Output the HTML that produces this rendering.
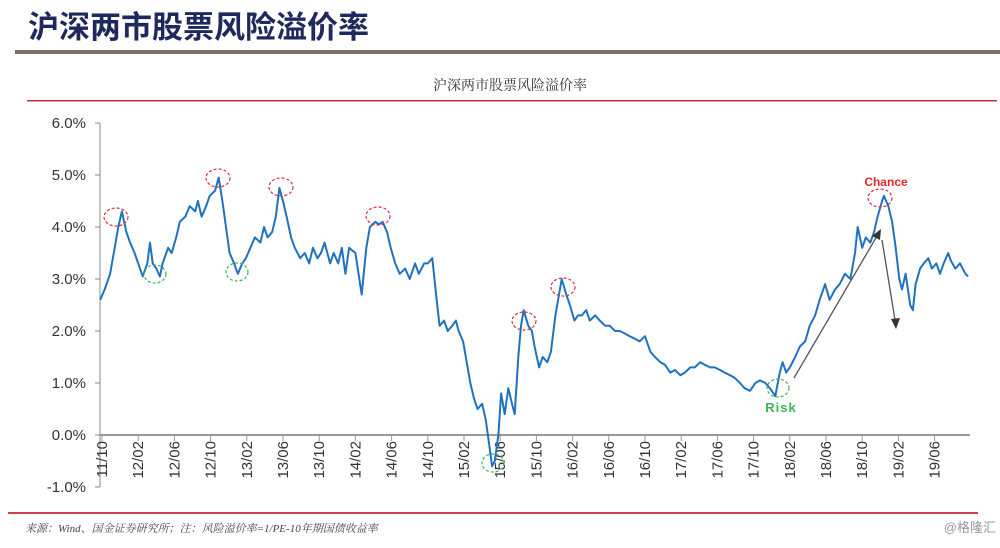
<!DOCTYPE html>
<html><head><meta charset="utf-8">
<style>
body{margin:0;background:#fff;width:1000px;height:543px;overflow:hidden;font-family:"Liberation Sans","Noto Sans CJK SC",sans-serif}
</style></head>
<body>
<svg width="1000" height="543" viewBox="0 0 1000 543" xmlns="http://www.w3.org/2000/svg">
<text x="28" y="38" font-size="31" font-weight="bold" fill="#1f2a5c" font-family="'Noto Sans CJK SC',sans-serif">沪深两市股票风险溢价率</text>
<rect x="15" y="50" width="985" height="4" fill="#7a7063"/>
<text x="510" y="90" font-size="14" text-anchor="middle" fill="#333" font-family="'Noto Serif CJK SC',serif">沪深两市股票风险溢价率</text>
<rect x="27" y="100" width="970" height="1.5" fill="#b8333f"/>
<rect x="8" y="512" width="970" height="2" fill="#c9434a"/>
<text x="25" y="532" font-size="11" font-style="italic" fill="#444" font-family="'Liberation Serif','Noto Serif CJK SC',serif">来源：Wind、国金证券研究所；注：风险溢价率=1/PE-10年期国债收益率</text>
<text x="996" y="532" font-size="13" text-anchor="end" fill="#999">@格隆汇</text>
<g id="axes"></g>
<g id="plot"></g>
<g id="anno"></g>
</svg>
<script>
const yTicks=[-1,0,1,2,3,4,5,6];
const xTickLabels=["11/10","12/02","12/06","12/10","13/02","13/06","13/10","14/02","14/06","14/10","15/02","15/06","15/10","16/02","16/06","16/10","17/02","17/06","17/10","18/02","18/06","18/10","19/02","19/06"];
// months since 2011/10
const months=[-0.2,0.3,0.9,1.4,1.8,2.2,2.7,3.1,3.6,4.2,4.5,5.0,5.3,5.6,6.0,6.4,6.7,7.3,7.7,8.2,8.6,9.2,9.7,10.3,10.6,11.0,11.5,11.9,12.5,12.9,13.3,13.7,14.1,14.6,15.0,15.5,15.9,16.4,16.9,17.5,17.9,18.3,18.8,19.2,19.6,20.0,20.4,20.9,21.3,21.9,22.4,22.9,23.3,23.8,24.2,24.6,25.2,25.6,26.1,26.5,26.9,27.3,28.0,28.7,29.2,29.6,30.2,30.6,31.0,31.5,31.9,32.4,32.9,33.5,34.0,34.6,35.0,35.6,36.0,36.5,36.8,37.1,37.3,37.8,38.2,38.7,39.1,39.4,39.9,40.3,40.7,41.1,41.5,42.0,42.4,42.8,43.1,43.4,43.8,44.1,44.5,44.9,45.3,45.6,46.0,46.3,46.6,47.1,47.5,47.8,48.3,48.7,49.2,49.6,50.1,50.4,50.8,51.3,51.7,52.2,52.6,53.0,53.5,53.9,54.5,55.0,55.6,56.1,56.7,57.2,57.8,58.3,58.9,59.4,60.0,60.6,61.1,61.7,62.2,62.8,63.3,63.9,64.4,65.0,65.5,66.1,66.6,67.2,67.7,68.3,68.8,69.4,69.9,70.5,71.0,71.6,72.2,72.7,73.3,73.8,74.4,74.9,75.2,75.6,76.0,76.6,77.1,77.7,78.2,78.8,79.3,79.9,80.4,81.0,81.5,82.1,82.7,83.2,83.5,84.0,84.4,84.9,85.3,85.7,86.2,86.4,86.9,87.3,87.7,88.1,88.4,88.8,89.3,89.6,89.9,90.4,90.8,91.3,91.7,92.2,92.6,93.0,93.5,93.8,94.3,94.8,95.4,95.7];
const values=[2.6,2.8,3.1,3.6,4.0,4.3,3.9,3.7,3.5,3.2,3.05,3.3,3.7,3.3,3.2,3.05,3.3,3.6,3.5,3.8,4.1,4.2,4.4,4.3,4.5,4.2,4.4,4.6,4.7,4.95,4.5,4.0,3.5,3.3,3.1,3.3,3.4,3.6,3.8,3.7,4.0,3.8,3.9,4.2,4.75,4.5,4.2,3.8,3.6,3.4,3.5,3.3,3.6,3.4,3.5,3.7,3.3,3.5,3.3,3.6,3.1,3.6,3.5,2.7,3.6,4.0,4.1,4.05,4.1,3.9,3.6,3.3,3.1,3.2,3.0,3.3,3.1,3.3,3.3,3.4,2.9,2.4,2.1,2.2,2.0,2.1,2.2,2.0,1.8,1.4,1.0,0.7,0.5,0.6,0.3,-0.2,-0.6,-0.5,0.0,0.8,0.4,0.9,0.6,0.4,1.5,2.1,2.4,2.1,2.0,1.7,1.3,1.5,1.4,1.6,2.3,2.6,3.0,2.7,2.5,2.2,2.3,2.3,2.4,2.2,2.3,2.2,2.1,2.1,2.0,2.0,1.95,1.9,1.85,1.8,1.9,1.6,1.5,1.4,1.35,1.2,1.25,1.15,1.2,1.3,1.3,1.4,1.35,1.3,1.3,1.25,1.2,1.15,1.1,1.0,0.9,0.85,1.0,1.05,1.0,0.9,0.75,1.2,1.4,1.2,1.3,1.5,1.7,1.8,2.1,2.3,2.6,2.9,2.6,2.8,2.9,3.1,3.0,3.5,4.0,3.6,3.8,3.7,3.9,4.2,4.5,4.6,4.4,4.1,3.6,3.0,2.8,3.1,2.5,2.4,2.9,3.2,3.3,3.4,3.2,3.3,3.1,3.3,3.5,3.35,3.2,3.3,3.1,3.05];
const NS='http://www.w3.org/2000/svg';
const yScale=v=>435-v*52;
const xScale=m=>102+m*9.05;
function mk(t,a,p){const e=document.createElementNS(NS,t);for(const k in a)e.setAttribute(k,a[k]);p.appendChild(e);return e;}
const ax=document.getElementById('axes');
let yl=mk('line',{x1:100,y1:yScale(6),x2:100,y2:yScale(-1),stroke:'#888','stroke-width':1},ax);


yTicks.forEach(v=>{
  const t=mk('line',{x1:95,x2:100,y1:yScale(v),y2:yScale(v),stroke:'#888'},ax);
  
  
  const l=mk('text',{x:86,y:yScale(v)+5,'font-size':15,'text-anchor':'end',fill:'#333'},ax);
  l.textContent=v.toFixed(1)+'%';
  
  
});
let xl=mk('line',{x1:100,y1:435,x2:970,y2:435,stroke:'#999','stroke-width':2},ax);


xTickLabels.forEach((s,i)=>{
  const x=xScale(i*4);
  const t=mk('line',{x1:x,x2:x,y1:435,y2:441,stroke:'#999'},ax);
  
  
  const l=mk('text',{x:0,y:0,'font-size':15,'text-anchor':'end',fill:'#333',transform:`translate(${x+5},441) rotate(-90)`},ax);
  l.textContent=s;
  
  
});
const pl=document.getElementById('plot');
const line=mk('polyline',{points:values.map((v,i)=>xScale(months[i]).toFixed(1)+','+yScale(v).toFixed(1)).join(' '),fill:'none',stroke:'#1f72c0','stroke-width':2,'stroke-linejoin':'round'},pl);


const an=document.getElementById('anno');
const reds=[[116,217],[218,178],[281,187],[378,216],[524,321],[563,287],[880,198]];
const greens=[[155,274],[237,272],[493,463],[778,388]];
reds.forEach(p=>{const e=mk('ellipse',{cx:p[0],cy:p[1],rx:12,ry:9,fill:'none',stroke:'#d9303a','stroke-width':1.2,'stroke-dasharray':'3,2'},an);

});
greens.forEach(p=>{const e=mk('ellipse',{cx:p[0],cy:p[1],rx:11,ry:9,fill:'none',stroke:'#3cb55a','stroke-width':1.2,'stroke-dasharray':'3,2'},an);

});
let ct=mk('text',{x:886,y:186,'font-size':12,'font-weight':'bold','text-anchor':'middle',fill:'#e02a2a'},an);ct.textContent='Chance';


let rt=mk('text',{x:781,y:412,'font-size':13,'font-weight':'bold','text-anchor':'middle',fill:'#3cb55a','letter-spacing':1},an);rt.textContent='Risk';


let a1=mk('line',{x1:794,y1:378,x2:877,y2:236,stroke:'#555','stroke-width':1.3},an);


let h1=mk('polygon',{points:'881,229 872,236 880,240',fill:'#333'},an);


let a2=mk('line',{x1:882,y1:240,x2:895,y2:320,stroke:'#555','stroke-width':1.3},an);


let h2=mk('polygon',{points:'896,329 891,319 900,318',fill:'#333'},an);


</script>
</body></html>
